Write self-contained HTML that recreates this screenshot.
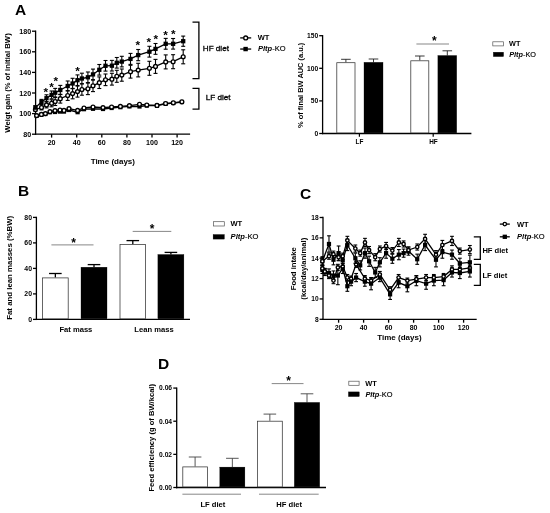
<!DOCTYPE html>
<html><head><meta charset="utf-8"><title>Figure</title>
<style>
html,body{margin:0;padding:0;background:#fff;}
svg{display:block;font-family:"Liberation Sans",sans-serif;filter:blur(0.35px);}
</style></head>
<body>
<svg width="550" height="513" viewBox="0 0 550 513">
<rect x="0" y="0" width="550" height="513" fill="#fff"/>
<text x="15.10" y="15.00" font-size="15.5" font-weight="bold" text-anchor="start" fill="#000" >A</text>
<line x1="35.60" y1="30.55" x2="35.60" y2="134.85" stroke="#000" stroke-width="1.3" />
<line x1="34.95" y1="134.20" x2="190.10" y2="134.20" stroke="#000" stroke-width="1.3" />
<line x1="32.00" y1="134.20" x2="35.60" y2="134.20" stroke="#000" stroke-width="1.3" />
<text x="31.20" y="136.70" font-size="7.1" font-weight="bold" text-anchor="end" fill="#000" >80</text>
<line x1="32.00" y1="113.60" x2="35.60" y2="113.60" stroke="#000" stroke-width="1.3" />
<text x="31.20" y="116.10" font-size="7.1" font-weight="bold" text-anchor="end" fill="#000" >100</text>
<line x1="32.00" y1="93.00" x2="35.60" y2="93.00" stroke="#000" stroke-width="1.3" />
<text x="31.20" y="95.50" font-size="7.1" font-weight="bold" text-anchor="end" fill="#000" >120</text>
<line x1="32.00" y1="72.40" x2="35.60" y2="72.40" stroke="#000" stroke-width="1.3" />
<text x="31.20" y="74.90" font-size="7.1" font-weight="bold" text-anchor="end" fill="#000" >140</text>
<line x1="32.00" y1="51.80" x2="35.60" y2="51.80" stroke="#000" stroke-width="1.3" />
<text x="31.20" y="54.30" font-size="7.1" font-weight="bold" text-anchor="end" fill="#000" >160</text>
<line x1="32.00" y1="31.20" x2="35.60" y2="31.20" stroke="#000" stroke-width="1.3" />
<text x="31.20" y="33.70" font-size="7.1" font-weight="bold" text-anchor="end" fill="#000" >180</text>
<line x1="51.60" y1="134.20" x2="51.60" y2="137.60" stroke="#000" stroke-width="1.3" />
<text x="51.60" y="145.00" font-size="7.1" font-weight="bold" text-anchor="middle" fill="#000" >20</text>
<line x1="76.70" y1="134.20" x2="76.70" y2="137.60" stroke="#000" stroke-width="1.3" />
<text x="76.70" y="145.00" font-size="7.1" font-weight="bold" text-anchor="middle" fill="#000" >40</text>
<line x1="101.80" y1="134.20" x2="101.80" y2="137.60" stroke="#000" stroke-width="1.3" />
<text x="101.80" y="145.00" font-size="7.1" font-weight="bold" text-anchor="middle" fill="#000" >60</text>
<line x1="126.90" y1="134.20" x2="126.90" y2="137.60" stroke="#000" stroke-width="1.3" />
<text x="126.90" y="145.00" font-size="7.1" font-weight="bold" text-anchor="middle" fill="#000" >80</text>
<line x1="152.00" y1="134.20" x2="152.00" y2="137.60" stroke="#000" stroke-width="1.3" />
<text x="152.00" y="145.00" font-size="7.1" font-weight="bold" text-anchor="middle" fill="#000" >100</text>
<line x1="177.10" y1="134.20" x2="177.10" y2="137.60" stroke="#000" stroke-width="1.3" />
<text x="177.10" y="145.00" font-size="7.1" font-weight="bold" text-anchor="middle" fill="#000" >120</text>
<text transform="translate(9.90,83.00) rotate(-90)" font-size="7.7" font-weight="bold" text-anchor="middle" >Weigt gain (% of initial BW)</text>
<text x="112.80" y="164.40" font-size="8.0" font-weight="bold" text-anchor="middle" fill="#000" >Time (days)</text>
<polyline fill="none" stroke="#000" stroke-width="1.3" points="36.60,115.80 41.40,114.70 45.40,114.00 50.00,112.20 55.00,112.00 60.00,111.60 64.00,111.60 69.00,110.00 77.60,112.20 84.00,109.20 93.00,108.80 103.00,109.00 111.60,108.00 120.40,107.20 129.40,106.40 139.50,106.50 146.80,105.60 157.00,105.70 165.60,103.80 173.30,103.00 181.90,102.00"/>
<rect x="34.50" y="113.70" width="4.2" height="4.2" fill="#000"/>
<rect x="39.30" y="112.60" width="4.2" height="4.2" fill="#000"/>
<rect x="43.30" y="111.90" width="4.2" height="4.2" fill="#000"/>
<rect x="47.90" y="110.10" width="4.2" height="4.2" fill="#000"/>
<rect x="52.90" y="109.90" width="4.2" height="4.2" fill="#000"/>
<rect x="57.90" y="109.50" width="4.2" height="4.2" fill="#000"/>
<rect x="61.90" y="109.50" width="4.2" height="4.2" fill="#000"/>
<rect x="66.90" y="107.90" width="4.2" height="4.2" fill="#000"/>
<rect x="75.50" y="110.10" width="4.2" height="4.2" fill="#000"/>
<rect x="81.90" y="107.10" width="4.2" height="4.2" fill="#000"/>
<rect x="90.90" y="106.70" width="4.2" height="4.2" fill="#000"/>
<rect x="100.90" y="106.90" width="4.2" height="4.2" fill="#000"/>
<rect x="109.50" y="105.90" width="4.2" height="4.2" fill="#000"/>
<rect x="118.30" y="105.10" width="4.2" height="4.2" fill="#000"/>
<rect x="127.30" y="104.30" width="4.2" height="4.2" fill="#000"/>
<rect x="137.40" y="104.40" width="4.2" height="4.2" fill="#000"/>
<rect x="144.70" y="103.50" width="4.2" height="4.2" fill="#000"/>
<rect x="154.90" y="103.60" width="4.2" height="4.2" fill="#000"/>
<rect x="163.50" y="101.70" width="4.2" height="4.2" fill="#000"/>
<rect x="171.20" y="100.90" width="4.2" height="4.2" fill="#000"/>
<rect x="179.80" y="99.90" width="4.2" height="4.2" fill="#000"/>
<polyline fill="none" stroke="#000" stroke-width="1.3" points="36.60,115.60 41.40,114.40 45.40,113.60 50.00,111.60 55.00,110.60 60.00,110.00 64.00,110.40 69.00,108.60 77.60,110.40 84.00,108.00 93.00,107.00 103.00,107.60 111.60,107.00 120.40,106.40 129.40,105.60 139.50,104.30 146.80,105.00 157.00,105.40 165.60,103.50 173.30,102.80 181.90,101.80"/>
<circle cx="36.60" cy="115.60" r="1.9" fill="#fff" stroke="#000" stroke-width="1.35"/>
<circle cx="41.40" cy="114.40" r="1.9" fill="#fff" stroke="#000" stroke-width="1.35"/>
<circle cx="45.40" cy="113.60" r="1.9" fill="#fff" stroke="#000" stroke-width="1.35"/>
<circle cx="50.00" cy="111.60" r="1.9" fill="#fff" stroke="#000" stroke-width="1.35"/>
<circle cx="55.00" cy="110.60" r="1.9" fill="#fff" stroke="#000" stroke-width="1.35"/>
<circle cx="60.00" cy="110.00" r="1.9" fill="#fff" stroke="#000" stroke-width="1.35"/>
<circle cx="64.00" cy="110.40" r="1.9" fill="#fff" stroke="#000" stroke-width="1.35"/>
<circle cx="69.00" cy="108.60" r="1.9" fill="#fff" stroke="#000" stroke-width="1.35"/>
<circle cx="77.60" cy="110.40" r="1.9" fill="#fff" stroke="#000" stroke-width="1.35"/>
<circle cx="84.00" cy="108.00" r="1.9" fill="#fff" stroke="#000" stroke-width="1.35"/>
<circle cx="93.00" cy="107.00" r="1.9" fill="#fff" stroke="#000" stroke-width="1.35"/>
<circle cx="103.00" cy="107.60" r="1.9" fill="#fff" stroke="#000" stroke-width="1.35"/>
<circle cx="111.60" cy="107.00" r="1.9" fill="#fff" stroke="#000" stroke-width="1.35"/>
<circle cx="120.40" cy="106.40" r="1.9" fill="#fff" stroke="#000" stroke-width="1.35"/>
<circle cx="129.40" cy="105.60" r="1.9" fill="#fff" stroke="#000" stroke-width="1.35"/>
<circle cx="139.50" cy="104.30" r="1.9" fill="#fff" stroke="#000" stroke-width="1.35"/>
<circle cx="146.80" cy="105.00" r="1.9" fill="#fff" stroke="#000" stroke-width="1.35"/>
<circle cx="157.00" cy="105.40" r="1.9" fill="#fff" stroke="#000" stroke-width="1.35"/>
<circle cx="165.60" cy="103.50" r="1.9" fill="#fff" stroke="#000" stroke-width="1.35"/>
<circle cx="173.30" cy="102.80" r="1.9" fill="#fff" stroke="#000" stroke-width="1.35"/>
<circle cx="181.90" cy="101.80" r="1.9" fill="#fff" stroke="#000" stroke-width="1.35"/>
<polyline fill="none" stroke="#000" stroke-width="1.3" points="35.40,109.60 41.50,107.50 46.50,104.90 51.60,103.30 55.20,101.50 60.30,98.70 67.70,95.50 72.60,93.60 77.50,91.60 81.90,89.50 87.90,88.80 93.00,85.80 99.30,82.70 105.50,79.80 111.90,79.20 116.80,76.30 121.80,75.10 130.50,71.70 138.20,70.10 149.40,68.30 155.50,66.40 165.70,61.90 173.10,61.70 183.20,56.80"/>
<line x1="35.40" y1="108.00" x2="35.40" y2="111.20" stroke="#000" stroke-width="1.1" />
<line x1="33.40" y1="108.00" x2="37.40" y2="108.00" stroke="#000" stroke-width="1.1" />
<line x1="33.40" y1="111.20" x2="37.40" y2="111.20" stroke="#000" stroke-width="1.1" />
<line x1="41.50" y1="105.10" x2="41.50" y2="109.90" stroke="#000" stroke-width="1.1" />
<line x1="39.50" y1="105.10" x2="43.50" y2="105.10" stroke="#000" stroke-width="1.1" />
<line x1="39.50" y1="109.90" x2="43.50" y2="109.90" stroke="#000" stroke-width="1.1" />
<line x1="46.50" y1="101.90" x2="46.50" y2="107.90" stroke="#000" stroke-width="1.1" />
<line x1="44.50" y1="101.90" x2="48.50" y2="101.90" stroke="#000" stroke-width="1.1" />
<line x1="44.50" y1="107.90" x2="48.50" y2="107.90" stroke="#000" stroke-width="1.1" />
<line x1="51.60" y1="99.80" x2="51.60" y2="106.80" stroke="#000" stroke-width="1.1" />
<line x1="49.60" y1="99.80" x2="53.60" y2="99.80" stroke="#000" stroke-width="1.1" />
<line x1="49.60" y1="106.80" x2="53.60" y2="106.80" stroke="#000" stroke-width="1.1" />
<line x1="55.20" y1="97.50" x2="55.20" y2="105.50" stroke="#000" stroke-width="1.1" />
<line x1="53.20" y1="97.50" x2="57.20" y2="97.50" stroke="#000" stroke-width="1.1" />
<line x1="53.20" y1="105.50" x2="57.20" y2="105.50" stroke="#000" stroke-width="1.1" />
<line x1="60.30" y1="94.30" x2="60.30" y2="103.10" stroke="#000" stroke-width="1.1" />
<line x1="58.30" y1="94.30" x2="62.30" y2="94.30" stroke="#000" stroke-width="1.1" />
<line x1="58.30" y1="103.10" x2="62.30" y2="103.10" stroke="#000" stroke-width="1.1" />
<line x1="67.70" y1="90.60" x2="67.70" y2="100.40" stroke="#000" stroke-width="1.1" />
<line x1="65.70" y1="90.60" x2="69.70" y2="90.60" stroke="#000" stroke-width="1.1" />
<line x1="65.70" y1="100.40" x2="69.70" y2="100.40" stroke="#000" stroke-width="1.1" />
<line x1="72.60" y1="88.40" x2="72.60" y2="98.80" stroke="#000" stroke-width="1.1" />
<line x1="70.60" y1="88.40" x2="74.60" y2="88.40" stroke="#000" stroke-width="1.1" />
<line x1="70.60" y1="98.80" x2="74.60" y2="98.80" stroke="#000" stroke-width="1.1" />
<line x1="77.50" y1="86.10" x2="77.50" y2="97.10" stroke="#000" stroke-width="1.1" />
<line x1="75.50" y1="86.10" x2="79.50" y2="86.10" stroke="#000" stroke-width="1.1" />
<line x1="75.50" y1="97.10" x2="79.50" y2="97.10" stroke="#000" stroke-width="1.1" />
<line x1="81.90" y1="83.80" x2="81.90" y2="95.20" stroke="#000" stroke-width="1.1" />
<line x1="79.90" y1="83.80" x2="83.90" y2="83.80" stroke="#000" stroke-width="1.1" />
<line x1="79.90" y1="95.20" x2="83.90" y2="95.20" stroke="#000" stroke-width="1.1" />
<line x1="87.90" y1="83.00" x2="87.90" y2="94.60" stroke="#000" stroke-width="1.1" />
<line x1="85.90" y1="83.00" x2="89.90" y2="83.00" stroke="#000" stroke-width="1.1" />
<line x1="85.90" y1="94.60" x2="89.90" y2="94.60" stroke="#000" stroke-width="1.1" />
<line x1="93.00" y1="80.00" x2="93.00" y2="91.60" stroke="#000" stroke-width="1.1" />
<line x1="91.00" y1="80.00" x2="95.00" y2="80.00" stroke="#000" stroke-width="1.1" />
<line x1="91.00" y1="91.60" x2="95.00" y2="91.60" stroke="#000" stroke-width="1.1" />
<line x1="99.30" y1="76.90" x2="99.30" y2="88.50" stroke="#000" stroke-width="1.1" />
<line x1="97.30" y1="76.90" x2="101.30" y2="76.90" stroke="#000" stroke-width="1.1" />
<line x1="97.30" y1="88.50" x2="101.30" y2="88.50" stroke="#000" stroke-width="1.1" />
<line x1="105.50" y1="74.00" x2="105.50" y2="85.60" stroke="#000" stroke-width="1.1" />
<line x1="103.50" y1="74.00" x2="107.50" y2="74.00" stroke="#000" stroke-width="1.1" />
<line x1="103.50" y1="85.60" x2="107.50" y2="85.60" stroke="#000" stroke-width="1.1" />
<line x1="111.90" y1="73.30" x2="111.90" y2="85.10" stroke="#000" stroke-width="1.1" />
<line x1="109.90" y1="73.30" x2="113.90" y2="73.30" stroke="#000" stroke-width="1.1" />
<line x1="109.90" y1="85.10" x2="113.90" y2="85.10" stroke="#000" stroke-width="1.1" />
<line x1="116.80" y1="70.30" x2="116.80" y2="82.30" stroke="#000" stroke-width="1.1" />
<line x1="114.80" y1="70.30" x2="118.80" y2="70.30" stroke="#000" stroke-width="1.1" />
<line x1="114.80" y1="82.30" x2="118.80" y2="82.30" stroke="#000" stroke-width="1.1" />
<line x1="121.80" y1="69.00" x2="121.80" y2="81.20" stroke="#000" stroke-width="1.1" />
<line x1="119.80" y1="69.00" x2="123.80" y2="69.00" stroke="#000" stroke-width="1.1" />
<line x1="119.80" y1="81.20" x2="123.80" y2="81.20" stroke="#000" stroke-width="1.1" />
<line x1="130.50" y1="65.30" x2="130.50" y2="78.10" stroke="#000" stroke-width="1.1" />
<line x1="128.50" y1="65.30" x2="132.50" y2="65.30" stroke="#000" stroke-width="1.1" />
<line x1="128.50" y1="78.10" x2="132.50" y2="78.10" stroke="#000" stroke-width="1.1" />
<line x1="138.20" y1="63.30" x2="138.20" y2="76.90" stroke="#000" stroke-width="1.1" />
<line x1="136.20" y1="63.30" x2="140.20" y2="63.30" stroke="#000" stroke-width="1.1" />
<line x1="136.20" y1="76.90" x2="140.20" y2="76.90" stroke="#000" stroke-width="1.1" />
<line x1="149.40" y1="61.30" x2="149.40" y2="75.30" stroke="#000" stroke-width="1.1" />
<line x1="147.40" y1="61.30" x2="151.40" y2="61.30" stroke="#000" stroke-width="1.1" />
<line x1="147.40" y1="75.30" x2="151.40" y2="75.30" stroke="#000" stroke-width="1.1" />
<line x1="155.50" y1="59.40" x2="155.50" y2="73.40" stroke="#000" stroke-width="1.1" />
<line x1="153.50" y1="59.40" x2="157.50" y2="59.40" stroke="#000" stroke-width="1.1" />
<line x1="153.50" y1="73.40" x2="157.50" y2="73.40" stroke="#000" stroke-width="1.1" />
<line x1="165.70" y1="54.90" x2="165.70" y2="68.90" stroke="#000" stroke-width="1.1" />
<line x1="163.70" y1="54.90" x2="167.70" y2="54.90" stroke="#000" stroke-width="1.1" />
<line x1="163.70" y1="68.90" x2="167.70" y2="68.90" stroke="#000" stroke-width="1.1" />
<line x1="173.10" y1="54.70" x2="173.10" y2="68.70" stroke="#000" stroke-width="1.1" />
<line x1="171.10" y1="54.70" x2="175.10" y2="54.70" stroke="#000" stroke-width="1.1" />
<line x1="171.10" y1="68.70" x2="175.10" y2="68.70" stroke="#000" stroke-width="1.1" />
<line x1="183.20" y1="49.80" x2="183.20" y2="63.80" stroke="#000" stroke-width="1.1" />
<line x1="181.20" y1="49.80" x2="185.20" y2="49.80" stroke="#000" stroke-width="1.1" />
<line x1="181.20" y1="63.80" x2="185.20" y2="63.80" stroke="#000" stroke-width="1.1" />
<circle cx="35.40" cy="109.60" r="1.9" fill="#fff" stroke="#000" stroke-width="1.35"/>
<circle cx="41.50" cy="107.50" r="1.9" fill="#fff" stroke="#000" stroke-width="1.35"/>
<circle cx="46.50" cy="104.90" r="1.9" fill="#fff" stroke="#000" stroke-width="1.35"/>
<circle cx="51.60" cy="103.30" r="1.9" fill="#fff" stroke="#000" stroke-width="1.35"/>
<circle cx="55.20" cy="101.50" r="1.9" fill="#fff" stroke="#000" stroke-width="1.35"/>
<circle cx="60.30" cy="98.70" r="1.9" fill="#fff" stroke="#000" stroke-width="1.35"/>
<circle cx="67.70" cy="95.50" r="1.9" fill="#fff" stroke="#000" stroke-width="1.35"/>
<circle cx="72.60" cy="93.60" r="1.9" fill="#fff" stroke="#000" stroke-width="1.35"/>
<circle cx="77.50" cy="91.60" r="1.9" fill="#fff" stroke="#000" stroke-width="1.35"/>
<circle cx="81.90" cy="89.50" r="1.9" fill="#fff" stroke="#000" stroke-width="1.35"/>
<circle cx="87.90" cy="88.80" r="1.9" fill="#fff" stroke="#000" stroke-width="1.35"/>
<circle cx="93.00" cy="85.80" r="1.9" fill="#fff" stroke="#000" stroke-width="1.35"/>
<circle cx="99.30" cy="82.70" r="1.9" fill="#fff" stroke="#000" stroke-width="1.35"/>
<circle cx="105.50" cy="79.80" r="1.9" fill="#fff" stroke="#000" stroke-width="1.35"/>
<circle cx="111.90" cy="79.20" r="1.9" fill="#fff" stroke="#000" stroke-width="1.35"/>
<circle cx="116.80" cy="76.30" r="1.9" fill="#fff" stroke="#000" stroke-width="1.35"/>
<circle cx="121.80" cy="75.10" r="1.9" fill="#fff" stroke="#000" stroke-width="1.35"/>
<circle cx="130.50" cy="71.70" r="1.9" fill="#fff" stroke="#000" stroke-width="1.35"/>
<circle cx="138.20" cy="70.10" r="1.9" fill="#fff" stroke="#000" stroke-width="1.35"/>
<circle cx="149.40" cy="68.30" r="1.9" fill="#fff" stroke="#000" stroke-width="1.35"/>
<circle cx="155.50" cy="66.40" r="1.9" fill="#fff" stroke="#000" stroke-width="1.35"/>
<circle cx="165.70" cy="61.90" r="1.9" fill="#fff" stroke="#000" stroke-width="1.35"/>
<circle cx="173.10" cy="61.70" r="1.9" fill="#fff" stroke="#000" stroke-width="1.35"/>
<circle cx="183.20" cy="56.80" r="1.9" fill="#fff" stroke="#000" stroke-width="1.35"/>
<polyline fill="none" stroke="#000" stroke-width="1.3" points="35.40,107.40 41.50,102.00 46.50,98.20 51.60,94.90 55.20,92.70 60.30,90.00 67.70,86.00 72.60,83.50 77.50,80.20 81.90,78.50 87.90,77.30 93.00,74.40 99.30,69.80 105.50,65.80 111.90,65.70 116.80,62.80 121.80,61.60 130.50,58.90 138.20,55.10 149.40,51.70 155.50,48.90 165.70,43.80 173.10,43.80 183.20,41.20"/>
<line x1="35.40" y1="105.80" x2="35.40" y2="109.00" stroke="#000" stroke-width="1.1" />
<line x1="33.40" y1="105.80" x2="37.40" y2="105.80" stroke="#000" stroke-width="1.1" />
<line x1="33.40" y1="109.00" x2="37.40" y2="109.00" stroke="#000" stroke-width="1.1" />
<line x1="41.50" y1="99.40" x2="41.50" y2="104.60" stroke="#000" stroke-width="1.1" />
<line x1="39.50" y1="99.40" x2="43.50" y2="99.40" stroke="#000" stroke-width="1.1" />
<line x1="39.50" y1="104.60" x2="43.50" y2="104.60" stroke="#000" stroke-width="1.1" />
<line x1="46.50" y1="94.80" x2="46.50" y2="101.60" stroke="#000" stroke-width="1.1" />
<line x1="44.50" y1="94.80" x2="48.50" y2="94.80" stroke="#000" stroke-width="1.1" />
<line x1="44.50" y1="101.60" x2="48.50" y2="101.60" stroke="#000" stroke-width="1.1" />
<line x1="51.60" y1="91.00" x2="51.60" y2="98.80" stroke="#000" stroke-width="1.1" />
<line x1="49.60" y1="91.00" x2="53.60" y2="91.00" stroke="#000" stroke-width="1.1" />
<line x1="49.60" y1="98.80" x2="53.60" y2="98.80" stroke="#000" stroke-width="1.1" />
<line x1="55.20" y1="88.40" x2="55.20" y2="97.00" stroke="#000" stroke-width="1.1" />
<line x1="53.20" y1="88.40" x2="57.20" y2="88.40" stroke="#000" stroke-width="1.1" />
<line x1="53.20" y1="97.00" x2="57.20" y2="97.00" stroke="#000" stroke-width="1.1" />
<line x1="60.30" y1="85.40" x2="60.30" y2="94.60" stroke="#000" stroke-width="1.1" />
<line x1="58.30" y1="85.40" x2="62.30" y2="85.40" stroke="#000" stroke-width="1.1" />
<line x1="58.30" y1="94.60" x2="62.30" y2="94.60" stroke="#000" stroke-width="1.1" />
<line x1="67.70" y1="81.00" x2="67.70" y2="91.00" stroke="#000" stroke-width="1.1" />
<line x1="65.70" y1="81.00" x2="69.70" y2="81.00" stroke="#000" stroke-width="1.1" />
<line x1="65.70" y1="91.00" x2="69.70" y2="91.00" stroke="#000" stroke-width="1.1" />
<line x1="72.60" y1="78.30" x2="72.60" y2="88.70" stroke="#000" stroke-width="1.1" />
<line x1="70.60" y1="78.30" x2="74.60" y2="78.30" stroke="#000" stroke-width="1.1" />
<line x1="70.60" y1="88.70" x2="74.60" y2="88.70" stroke="#000" stroke-width="1.1" />
<line x1="77.50" y1="74.90" x2="77.50" y2="85.50" stroke="#000" stroke-width="1.1" />
<line x1="75.50" y1="74.90" x2="79.50" y2="74.90" stroke="#000" stroke-width="1.1" />
<line x1="75.50" y1="85.50" x2="79.50" y2="85.50" stroke="#000" stroke-width="1.1" />
<line x1="81.90" y1="73.20" x2="81.90" y2="83.80" stroke="#000" stroke-width="1.1" />
<line x1="79.90" y1="73.20" x2="83.90" y2="73.20" stroke="#000" stroke-width="1.1" />
<line x1="79.90" y1="83.80" x2="83.90" y2="83.80" stroke="#000" stroke-width="1.1" />
<line x1="87.90" y1="72.00" x2="87.90" y2="82.60" stroke="#000" stroke-width="1.1" />
<line x1="85.90" y1="72.00" x2="89.90" y2="72.00" stroke="#000" stroke-width="1.1" />
<line x1="85.90" y1="82.60" x2="89.90" y2="82.60" stroke="#000" stroke-width="1.1" />
<line x1="93.00" y1="69.10" x2="93.00" y2="79.70" stroke="#000" stroke-width="1.1" />
<line x1="91.00" y1="69.10" x2="95.00" y2="69.10" stroke="#000" stroke-width="1.1" />
<line x1="91.00" y1="79.70" x2="95.00" y2="79.70" stroke="#000" stroke-width="1.1" />
<line x1="99.30" y1="64.50" x2="99.30" y2="75.10" stroke="#000" stroke-width="1.1" />
<line x1="97.30" y1="64.50" x2="101.30" y2="64.50" stroke="#000" stroke-width="1.1" />
<line x1="97.30" y1="75.10" x2="101.30" y2="75.10" stroke="#000" stroke-width="1.1" />
<line x1="105.50" y1="60.50" x2="105.50" y2="71.10" stroke="#000" stroke-width="1.1" />
<line x1="103.50" y1="60.50" x2="107.50" y2="60.50" stroke="#000" stroke-width="1.1" />
<line x1="103.50" y1="71.10" x2="107.50" y2="71.10" stroke="#000" stroke-width="1.1" />
<line x1="111.90" y1="60.40" x2="111.90" y2="71.00" stroke="#000" stroke-width="1.1" />
<line x1="109.90" y1="60.40" x2="113.90" y2="60.40" stroke="#000" stroke-width="1.1" />
<line x1="109.90" y1="71.00" x2="113.90" y2="71.00" stroke="#000" stroke-width="1.1" />
<line x1="116.80" y1="57.50" x2="116.80" y2="68.10" stroke="#000" stroke-width="1.1" />
<line x1="114.80" y1="57.50" x2="118.80" y2="57.50" stroke="#000" stroke-width="1.1" />
<line x1="114.80" y1="68.10" x2="118.80" y2="68.10" stroke="#000" stroke-width="1.1" />
<line x1="121.80" y1="56.30" x2="121.80" y2="66.90" stroke="#000" stroke-width="1.1" />
<line x1="119.80" y1="56.30" x2="123.80" y2="56.30" stroke="#000" stroke-width="1.1" />
<line x1="119.80" y1="66.90" x2="123.80" y2="66.90" stroke="#000" stroke-width="1.1" />
<line x1="130.50" y1="53.40" x2="130.50" y2="64.40" stroke="#000" stroke-width="1.1" />
<line x1="128.50" y1="53.40" x2="132.50" y2="53.40" stroke="#000" stroke-width="1.1" />
<line x1="128.50" y1="64.40" x2="132.50" y2="64.40" stroke="#000" stroke-width="1.1" />
<line x1="138.20" y1="49.50" x2="138.20" y2="60.70" stroke="#000" stroke-width="1.1" />
<line x1="136.20" y1="49.50" x2="140.20" y2="49.50" stroke="#000" stroke-width="1.1" />
<line x1="136.20" y1="60.70" x2="140.20" y2="60.70" stroke="#000" stroke-width="1.1" />
<line x1="149.40" y1="46.30" x2="149.40" y2="57.10" stroke="#000" stroke-width="1.1" />
<line x1="147.40" y1="46.30" x2="151.40" y2="46.30" stroke="#000" stroke-width="1.1" />
<line x1="147.40" y1="57.10" x2="151.40" y2="57.10" stroke="#000" stroke-width="1.1" />
<line x1="155.50" y1="43.50" x2="155.50" y2="54.30" stroke="#000" stroke-width="1.1" />
<line x1="153.50" y1="43.50" x2="157.50" y2="43.50" stroke="#000" stroke-width="1.1" />
<line x1="153.50" y1="54.30" x2="157.50" y2="54.30" stroke="#000" stroke-width="1.1" />
<line x1="165.70" y1="38.40" x2="165.70" y2="49.20" stroke="#000" stroke-width="1.1" />
<line x1="163.70" y1="38.40" x2="167.70" y2="38.40" stroke="#000" stroke-width="1.1" />
<line x1="163.70" y1="49.20" x2="167.70" y2="49.20" stroke="#000" stroke-width="1.1" />
<line x1="173.10" y1="38.50" x2="173.10" y2="49.10" stroke="#000" stroke-width="1.1" />
<line x1="171.10" y1="38.50" x2="175.10" y2="38.50" stroke="#000" stroke-width="1.1" />
<line x1="171.10" y1="49.10" x2="175.10" y2="49.10" stroke="#000" stroke-width="1.1" />
<line x1="183.20" y1="36.10" x2="183.20" y2="46.30" stroke="#000" stroke-width="1.1" />
<line x1="181.20" y1="36.10" x2="185.20" y2="36.10" stroke="#000" stroke-width="1.1" />
<line x1="181.20" y1="46.30" x2="185.20" y2="46.30" stroke="#000" stroke-width="1.1" />
<rect x="33.25" y="105.25" width="4.3" height="4.3" fill="#000"/>
<rect x="39.35" y="99.85" width="4.3" height="4.3" fill="#000"/>
<rect x="44.35" y="96.05" width="4.3" height="4.3" fill="#000"/>
<rect x="49.45" y="92.75" width="4.3" height="4.3" fill="#000"/>
<rect x="53.05" y="90.55" width="4.3" height="4.3" fill="#000"/>
<rect x="58.15" y="87.85" width="4.3" height="4.3" fill="#000"/>
<rect x="65.55" y="83.85" width="4.3" height="4.3" fill="#000"/>
<rect x="70.45" y="81.35" width="4.3" height="4.3" fill="#000"/>
<rect x="75.35" y="78.05" width="4.3" height="4.3" fill="#000"/>
<rect x="79.75" y="76.35" width="4.3" height="4.3" fill="#000"/>
<rect x="85.75" y="75.15" width="4.3" height="4.3" fill="#000"/>
<rect x="90.85" y="72.25" width="4.3" height="4.3" fill="#000"/>
<rect x="97.15" y="67.65" width="4.3" height="4.3" fill="#000"/>
<rect x="103.35" y="63.65" width="4.3" height="4.3" fill="#000"/>
<rect x="109.75" y="63.55" width="4.3" height="4.3" fill="#000"/>
<rect x="114.65" y="60.65" width="4.3" height="4.3" fill="#000"/>
<rect x="119.65" y="59.45" width="4.3" height="4.3" fill="#000"/>
<rect x="128.35" y="56.75" width="4.3" height="4.3" fill="#000"/>
<rect x="136.05" y="52.95" width="4.3" height="4.3" fill="#000"/>
<rect x="147.25" y="49.55" width="4.3" height="4.3" fill="#000"/>
<rect x="153.35" y="46.75" width="4.3" height="4.3" fill="#000"/>
<rect x="163.55" y="41.65" width="4.3" height="4.3" fill="#000"/>
<rect x="170.95" y="41.65" width="4.3" height="4.3" fill="#000"/>
<rect x="181.05" y="39.05" width="4.3" height="4.3" fill="#000"/>
<text x="45.90" y="95.72" font-size="11.8" font-weight="bold" text-anchor="middle" fill="#000" >*</text>
<text x="51.60" y="90.92" font-size="11.8" font-weight="bold" text-anchor="middle" fill="#000" >*</text>
<text x="55.90" y="85.42" font-size="11.8" font-weight="bold" text-anchor="middle" fill="#000" >*</text>
<text x="77.50" y="74.92" font-size="11.8" font-weight="bold" text-anchor="middle" fill="#000" >*</text>
<text x="137.70" y="48.82" font-size="11.8" font-weight="bold" text-anchor="middle" fill="#000" >*</text>
<text x="148.80" y="46.02" font-size="11.8" font-weight="bold" text-anchor="middle" fill="#000" >*</text>
<text x="155.90" y="43.12" font-size="11.8" font-weight="bold" text-anchor="middle" fill="#000" >*</text>
<text x="165.50" y="38.92" font-size="11.8" font-weight="bold" text-anchor="middle" fill="#000" >*</text>
<text x="173.40" y="38.02" font-size="11.8" font-weight="bold" text-anchor="middle" fill="#000" >*</text>
<polyline fill="none" stroke="#000" stroke-width="1.3" points="192.50,22.20 198.90,22.20 198.90,78.70 192.50,78.70"/>
<polyline fill="none" stroke="#000" stroke-width="1.3" points="192.50,88.30 198.90,88.30 198.90,109.10 192.50,109.10"/>
<text x="202.80" y="50.80" font-size="8.1" font-weight="normal" text-anchor="start" fill="#000" stroke="#000" stroke-width="0.3">HF diet</text>
<text x="205.80" y="99.70" font-size="8.1" font-weight="normal" text-anchor="start" fill="#000" stroke="#000" stroke-width="0.3">LF diet</text>
<line x1="240.20" y1="37.90" x2="251.20" y2="37.90" stroke="#000" stroke-width="1.3" />
<circle cx="245.70" cy="37.90" r="1.95" fill="#fff" stroke="#000" stroke-width="1.35"/>
<text x="257.70" y="40.40" font-size="7.5" font-weight="bold" text-anchor="start" fill="#000" >WT</text>
<line x1="240.20" y1="49.05" x2="251.20" y2="49.05" stroke="#000" stroke-width="1.3" />
<rect x="243.40" y="46.85" width="4.4" height="4.4" fill="#000"/>
<text x="258.00" y="51.40" font-size="7.5" font-weight="bold"><tspan font-style="italic">Pltp</tspan><tspan font-weight="normal" stroke="#000" stroke-width="0.15">-KO</tspan></text>
<line x1="322.60" y1="35.05" x2="322.60" y2="134.15" stroke="#000" stroke-width="1.3" />
<line x1="321.95" y1="133.50" x2="471.40" y2="133.50" stroke="#000" stroke-width="1.3" />
<line x1="319.20" y1="133.50" x2="322.60" y2="133.50" stroke="#000" stroke-width="1.3" />
<text x="318.20" y="135.90" font-size="6.7" font-weight="bold" text-anchor="end" fill="#000" >0</text>
<line x1="319.20" y1="100.90" x2="322.60" y2="100.90" stroke="#000" stroke-width="1.3" />
<text x="318.20" y="103.30" font-size="6.7" font-weight="bold" text-anchor="end" fill="#000" >50</text>
<line x1="319.20" y1="68.30" x2="322.60" y2="68.30" stroke="#000" stroke-width="1.3" />
<text x="318.20" y="70.70" font-size="6.7" font-weight="bold" text-anchor="end" fill="#000" >100</text>
<line x1="319.20" y1="35.70" x2="322.60" y2="35.70" stroke="#000" stroke-width="1.3" />
<text x="318.20" y="38.10" font-size="6.7" font-weight="bold" text-anchor="end" fill="#000" >150</text>
<text transform="translate(303.20,85.30) rotate(-90)" font-size="7.45" font-weight="bold" text-anchor="middle" >% of final BW AUC (a.u.)</text>
<line x1="345.90" y1="59.30" x2="345.90" y2="62.30" stroke="#222" stroke-width="0.9" />
<line x1="341.10" y1="59.30" x2="350.70" y2="59.30" stroke="#222" stroke-width="0.9" />
<rect x="336.80" y="62.70" width="18.20" height="70.20" fill="#fff" stroke="#333" stroke-width="0.75"/>
<line x1="373.50" y1="59.00" x2="373.50" y2="62.30" stroke="#222" stroke-width="0.9" />
<line x1="368.70" y1="59.00" x2="378.30" y2="59.00" stroke="#222" stroke-width="0.9" />
<rect x="364.00" y="62.30" width="19.00" height="70.60" fill="#000" stroke="#000" stroke-width="0.3"/>
<line x1="419.80" y1="56.00" x2="419.80" y2="60.40" stroke="#222" stroke-width="0.9" />
<line x1="415.00" y1="56.00" x2="424.60" y2="56.00" stroke="#222" stroke-width="0.9" />
<rect x="410.80" y="60.80" width="18.00" height="72.10" fill="#fff" stroke="#333" stroke-width="0.75"/>
<line x1="447.30" y1="50.80" x2="447.30" y2="55.50" stroke="#222" stroke-width="0.9" />
<line x1="442.50" y1="50.80" x2="452.10" y2="50.80" stroke="#222" stroke-width="0.9" />
<rect x="437.90" y="55.50" width="18.80" height="77.40" fill="#000" stroke="#000" stroke-width="0.3"/>
<line x1="359.40" y1="133.50" x2="359.40" y2="136.80" stroke="#000" stroke-width="1.2" />
<line x1="433.20" y1="133.50" x2="433.20" y2="136.80" stroke="#000" stroke-width="1.2" />
<text x="359.40" y="144.00" font-size="6.4" font-weight="bold" text-anchor="middle" fill="#000" >LF</text>
<text x="433.40" y="144.00" font-size="6.4" font-weight="bold" text-anchor="middle" fill="#000" >HF</text>
<line x1="416.40" y1="44.00" x2="449.00" y2="44.00" stroke="#555" stroke-width="0.7" />
<text x="434.40" y="45.22" font-size="12" font-weight="bold" text-anchor="middle" fill="#000" >*</text>
<rect x="492.80" y="41.80" width="10.60" height="4.10" fill="#fff" stroke="#555" stroke-width="0.7"/>
<text x="509.00" y="46.20" font-size="7.3" font-weight="bold" text-anchor="start" fill="#000" >WT</text>
<rect x="493.30" y="52.20" width="10.30" height="4.40" fill="#000" stroke="#000" stroke-width="0.3"/>
<text x="509.20" y="56.70" font-size="7.3" font-weight="bold"><tspan font-style="italic">Pltp</tspan><tspan font-weight="normal" stroke="#000" stroke-width="0.15">-KO</tspan></text>
<text x="17.90" y="195.50" font-size="15.5" font-weight="bold" text-anchor="start" fill="#000" >B</text>
<line x1="36.40" y1="216.75" x2="36.40" y2="320.05" stroke="#000" stroke-width="1.3" />
<line x1="35.75" y1="319.40" x2="190.00" y2="319.40" stroke="#000" stroke-width="1.3" />
<line x1="33.00" y1="319.40" x2="36.40" y2="319.40" stroke="#000" stroke-width="1.3" />
<text x="32.00" y="321.85" font-size="6.9" font-weight="bold" text-anchor="end" fill="#000" >0</text>
<line x1="33.00" y1="293.90" x2="36.40" y2="293.90" stroke="#000" stroke-width="1.3" />
<text x="32.00" y="296.35" font-size="6.9" font-weight="bold" text-anchor="end" fill="#000" >20</text>
<line x1="33.00" y1="268.40" x2="36.40" y2="268.40" stroke="#000" stroke-width="1.3" />
<text x="32.00" y="270.85" font-size="6.9" font-weight="bold" text-anchor="end" fill="#000" >40</text>
<line x1="33.00" y1="242.90" x2="36.40" y2="242.90" stroke="#000" stroke-width="1.3" />
<text x="32.00" y="245.35" font-size="6.9" font-weight="bold" text-anchor="end" fill="#000" >60</text>
<line x1="33.00" y1="217.40" x2="36.40" y2="217.40" stroke="#000" stroke-width="1.3" />
<text x="32.00" y="219.85" font-size="6.9" font-weight="bold" text-anchor="end" fill="#000" >80</text>
<text transform="translate(12.20,267.80) rotate(-90)" font-size="7.84" font-weight="bold" text-anchor="middle" >Fat and lean masses (%BW)</text>
<line x1="55.35" y1="273.50" x2="55.35" y2="277.50" stroke="#000" stroke-width="1.3" />
<line x1="49.05" y1="273.50" x2="61.65" y2="273.50" stroke="#000" stroke-width="1.3" />
<rect x="42.50" y="277.90" width="25.70" height="40.90" fill="#fff" stroke="#333" stroke-width="0.75"/>
<line x1="94.00" y1="264.60" x2="94.00" y2="267.20" stroke="#000" stroke-width="1.3" />
<line x1="87.70" y1="264.60" x2="100.30" y2="264.60" stroke="#000" stroke-width="1.3" />
<rect x="81.00" y="267.20" width="26.00" height="51.60" fill="#000" stroke="#000" stroke-width="0.3"/>
<line x1="132.80" y1="240.60" x2="132.80" y2="244.20" stroke="#000" stroke-width="1.3" />
<line x1="126.50" y1="240.60" x2="139.10" y2="240.60" stroke="#000" stroke-width="1.3" />
<rect x="120.00" y="244.60" width="25.60" height="74.20" fill="#fff" stroke="#333" stroke-width="0.75"/>
<line x1="170.90" y1="252.40" x2="170.90" y2="254.50" stroke="#000" stroke-width="1.3" />
<line x1="164.60" y1="252.40" x2="177.20" y2="252.40" stroke="#000" stroke-width="1.3" />
<rect x="157.90" y="254.50" width="26.00" height="64.30" fill="#000" stroke="#000" stroke-width="0.3"/>
<text x="75.90" y="332.20" font-size="7.6" font-weight="bold" text-anchor="middle" fill="#000" >Fat mass</text>
<text x="154.00" y="332.20" font-size="7.6" font-weight="bold" text-anchor="middle" fill="#000" >Lean mass</text>
<line x1="51.40" y1="244.90" x2="93.50" y2="244.90" stroke="#555" stroke-width="0.7" />
<text x="73.60" y="246.62" font-size="12" font-weight="bold" text-anchor="middle" fill="#000" >*</text>
<line x1="132.70" y1="231.40" x2="171.30" y2="231.40" stroke="#555" stroke-width="0.7" />
<text x="152.20" y="232.72" font-size="12" font-weight="bold" text-anchor="middle" fill="#000" >*</text>
<rect x="213.50" y="221.70" width="10.80" height="4.30" fill="#fff" stroke="#555" stroke-width="0.7"/>
<text x="230.40" y="226.40" font-size="7.6" font-weight="bold" text-anchor="start" fill="#000" >WT</text>
<rect x="213.10" y="234.50" width="11.30" height="4.60" fill="#000" stroke="#000" stroke-width="0.3"/>
<text x="230.60" y="239.10" font-size="7.6" font-weight="bold"><tspan font-style="italic">Pltp</tspan><tspan font-weight="normal" stroke="#000" stroke-width="0.15">-KO</tspan></text>
<text x="300.10" y="199.10" font-size="15.5" font-weight="bold" text-anchor="start" fill="#000" >C</text>
<line x1="323.00" y1="216.85" x2="323.00" y2="319.95" stroke="#000" stroke-width="1.3" />
<line x1="322.35" y1="319.30" x2="476.70" y2="319.30" stroke="#000" stroke-width="1.3" />
<line x1="319.60" y1="319.30" x2="323.00" y2="319.30" stroke="#000" stroke-width="1.3" />
<text x="318.60" y="321.60" font-size="6.6" font-weight="bold" text-anchor="end" fill="#000" >8</text>
<line x1="319.60" y1="298.94" x2="323.00" y2="298.94" stroke="#000" stroke-width="1.3" />
<text x="318.60" y="301.24" font-size="6.6" font-weight="bold" text-anchor="end" fill="#000" >10</text>
<line x1="319.60" y1="278.58" x2="323.00" y2="278.58" stroke="#000" stroke-width="1.3" />
<text x="318.60" y="280.88" font-size="6.6" font-weight="bold" text-anchor="end" fill="#000" >12</text>
<line x1="319.60" y1="258.22" x2="323.00" y2="258.22" stroke="#000" stroke-width="1.3" />
<text x="318.60" y="260.52" font-size="6.6" font-weight="bold" text-anchor="end" fill="#000" >14</text>
<line x1="319.60" y1="237.86" x2="323.00" y2="237.86" stroke="#000" stroke-width="1.3" />
<text x="318.60" y="240.16" font-size="6.6" font-weight="bold" text-anchor="end" fill="#000" >16</text>
<line x1="319.60" y1="217.50" x2="323.00" y2="217.50" stroke="#000" stroke-width="1.3" />
<text x="318.60" y="219.80" font-size="6.6" font-weight="bold" text-anchor="end" fill="#000" >18</text>
<line x1="338.60" y1="319.30" x2="338.60" y2="322.70" stroke="#000" stroke-width="1.3" />
<text x="338.60" y="330.00" font-size="7.0" font-weight="bold" text-anchor="middle" fill="#000" >20</text>
<line x1="363.60" y1="319.30" x2="363.60" y2="322.70" stroke="#000" stroke-width="1.3" />
<text x="363.60" y="330.00" font-size="7.0" font-weight="bold" text-anchor="middle" fill="#000" >40</text>
<line x1="388.60" y1="319.30" x2="388.60" y2="322.70" stroke="#000" stroke-width="1.3" />
<text x="388.60" y="330.00" font-size="7.0" font-weight="bold" text-anchor="middle" fill="#000" >60</text>
<line x1="413.60" y1="319.30" x2="413.60" y2="322.70" stroke="#000" stroke-width="1.3" />
<text x="413.60" y="330.00" font-size="7.0" font-weight="bold" text-anchor="middle" fill="#000" >80</text>
<line x1="438.60" y1="319.30" x2="438.60" y2="322.70" stroke="#000" stroke-width="1.3" />
<text x="438.60" y="330.00" font-size="7.0" font-weight="bold" text-anchor="middle" fill="#000" >100</text>
<line x1="463.60" y1="319.30" x2="463.60" y2="322.70" stroke="#000" stroke-width="1.3" />
<text x="463.60" y="330.00" font-size="7.0" font-weight="bold" text-anchor="middle" fill="#000" >120</text>
<text transform="translate(296.0,268.7) rotate(-90)" font-size="7.7" font-weight="bold" text-anchor="middle"><tspan x="0" dy="0">Food intake</tspan><tspan x="0" dy="9.5">(kcal/day/animal)</tspan></text>
<text x="399.40" y="339.90" font-size="8.0" font-weight="bold" text-anchor="middle" fill="#000" >Time (days)</text>
<polyline fill="none" stroke="#000" stroke-width="1.3" points="322.35,269.42 324.85,271.96 328.98,272.98 333.48,275.53 337.85,275.53 342.73,268.40 347.35,286.22 351.10,281.63 356.10,277.56 364.85,281.63 371.10,283.67 379.85,277.56 390.10,294.36 398.60,282.65 407.35,286.22 416.35,280.62 426.10,283.67 433.85,280.62 443.60,280.11 451.98,272.47 459.85,272.98 469.85,271.45"/>
<line x1="322.35" y1="265.35" x2="322.35" y2="273.49" stroke="#000" stroke-width="1.1" />
<line x1="320.45" y1="265.35" x2="324.25" y2="265.35" stroke="#000" stroke-width="1.1" />
<line x1="320.45" y1="273.49" x2="324.25" y2="273.49" stroke="#000" stroke-width="1.1" />
<line x1="324.85" y1="268.40" x2="324.85" y2="275.53" stroke="#000" stroke-width="1.1" />
<line x1="322.95" y1="268.40" x2="326.75" y2="268.40" stroke="#000" stroke-width="1.1" />
<line x1="322.95" y1="275.53" x2="326.75" y2="275.53" stroke="#000" stroke-width="1.1" />
<line x1="328.98" y1="268.91" x2="328.98" y2="277.05" stroke="#000" stroke-width="1.1" />
<line x1="327.08" y1="268.91" x2="330.88" y2="268.91" stroke="#000" stroke-width="1.1" />
<line x1="327.08" y1="277.05" x2="330.88" y2="277.05" stroke="#000" stroke-width="1.1" />
<line x1="333.48" y1="270.94" x2="333.48" y2="280.11" stroke="#000" stroke-width="1.1" />
<line x1="331.58" y1="270.94" x2="335.38" y2="270.94" stroke="#000" stroke-width="1.1" />
<line x1="331.58" y1="280.11" x2="335.38" y2="280.11" stroke="#000" stroke-width="1.1" />
<line x1="337.85" y1="266.36" x2="337.85" y2="284.69" stroke="#000" stroke-width="1.1" />
<line x1="335.95" y1="266.36" x2="339.75" y2="266.36" stroke="#000" stroke-width="1.1" />
<line x1="335.95" y1="284.69" x2="339.75" y2="284.69" stroke="#000" stroke-width="1.1" />
<line x1="342.73" y1="263.31" x2="342.73" y2="273.49" stroke="#000" stroke-width="1.1" />
<line x1="340.83" y1="263.31" x2="344.62" y2="263.31" stroke="#000" stroke-width="1.1" />
<line x1="340.83" y1="273.49" x2="344.62" y2="273.49" stroke="#000" stroke-width="1.1" />
<line x1="347.35" y1="281.13" x2="347.35" y2="291.31" stroke="#000" stroke-width="1.1" />
<line x1="345.45" y1="281.13" x2="349.25" y2="281.13" stroke="#000" stroke-width="1.1" />
<line x1="345.45" y1="291.31" x2="349.25" y2="291.31" stroke="#000" stroke-width="1.1" />
<line x1="351.10" y1="277.56" x2="351.10" y2="285.71" stroke="#000" stroke-width="1.1" />
<line x1="349.20" y1="277.56" x2="353.00" y2="277.56" stroke="#000" stroke-width="1.1" />
<line x1="349.20" y1="285.71" x2="353.00" y2="285.71" stroke="#000" stroke-width="1.1" />
<line x1="356.10" y1="273.49" x2="356.10" y2="281.63" stroke="#000" stroke-width="1.1" />
<line x1="354.20" y1="273.49" x2="358.00" y2="273.49" stroke="#000" stroke-width="1.1" />
<line x1="354.20" y1="281.63" x2="358.00" y2="281.63" stroke="#000" stroke-width="1.1" />
<line x1="364.85" y1="277.05" x2="364.85" y2="286.22" stroke="#000" stroke-width="1.1" />
<line x1="362.95" y1="277.05" x2="366.75" y2="277.05" stroke="#000" stroke-width="1.1" />
<line x1="362.95" y1="286.22" x2="366.75" y2="286.22" stroke="#000" stroke-width="1.1" />
<line x1="371.10" y1="277.56" x2="371.10" y2="289.78" stroke="#000" stroke-width="1.1" />
<line x1="369.20" y1="277.56" x2="373.00" y2="277.56" stroke="#000" stroke-width="1.1" />
<line x1="369.20" y1="289.78" x2="373.00" y2="289.78" stroke="#000" stroke-width="1.1" />
<line x1="379.85" y1="273.49" x2="379.85" y2="281.63" stroke="#000" stroke-width="1.1" />
<line x1="377.95" y1="273.49" x2="381.75" y2="273.49" stroke="#000" stroke-width="1.1" />
<line x1="377.95" y1="281.63" x2="381.75" y2="281.63" stroke="#000" stroke-width="1.1" />
<line x1="390.10" y1="289.27" x2="390.10" y2="299.45" stroke="#000" stroke-width="1.1" />
<line x1="388.20" y1="289.27" x2="392.00" y2="289.27" stroke="#000" stroke-width="1.1" />
<line x1="388.20" y1="299.45" x2="392.00" y2="299.45" stroke="#000" stroke-width="1.1" />
<line x1="398.60" y1="277.56" x2="398.60" y2="287.74" stroke="#000" stroke-width="1.1" />
<line x1="396.70" y1="277.56" x2="400.50" y2="277.56" stroke="#000" stroke-width="1.1" />
<line x1="396.70" y1="287.74" x2="400.50" y2="287.74" stroke="#000" stroke-width="1.1" />
<line x1="407.35" y1="280.62" x2="407.35" y2="291.81" stroke="#000" stroke-width="1.1" />
<line x1="405.45" y1="280.62" x2="409.25" y2="280.62" stroke="#000" stroke-width="1.1" />
<line x1="405.45" y1="291.81" x2="409.25" y2="291.81" stroke="#000" stroke-width="1.1" />
<line x1="416.35" y1="275.53" x2="416.35" y2="285.71" stroke="#000" stroke-width="1.1" />
<line x1="414.45" y1="275.53" x2="418.25" y2="275.53" stroke="#000" stroke-width="1.1" />
<line x1="414.45" y1="285.71" x2="418.25" y2="285.71" stroke="#000" stroke-width="1.1" />
<line x1="426.10" y1="278.07" x2="426.10" y2="289.27" stroke="#000" stroke-width="1.1" />
<line x1="424.20" y1="278.07" x2="428.00" y2="278.07" stroke="#000" stroke-width="1.1" />
<line x1="424.20" y1="289.27" x2="428.00" y2="289.27" stroke="#000" stroke-width="1.1" />
<line x1="433.85" y1="275.53" x2="433.85" y2="285.71" stroke="#000" stroke-width="1.1" />
<line x1="431.95" y1="275.53" x2="435.75" y2="275.53" stroke="#000" stroke-width="1.1" />
<line x1="431.95" y1="285.71" x2="435.75" y2="285.71" stroke="#000" stroke-width="1.1" />
<line x1="443.60" y1="274.51" x2="443.60" y2="285.71" stroke="#000" stroke-width="1.1" />
<line x1="441.70" y1="274.51" x2="445.50" y2="274.51" stroke="#000" stroke-width="1.1" />
<line x1="441.70" y1="285.71" x2="445.50" y2="285.71" stroke="#000" stroke-width="1.1" />
<line x1="451.98" y1="267.89" x2="451.98" y2="277.05" stroke="#000" stroke-width="1.1" />
<line x1="450.08" y1="267.89" x2="453.88" y2="267.89" stroke="#000" stroke-width="1.1" />
<line x1="450.08" y1="277.05" x2="453.88" y2="277.05" stroke="#000" stroke-width="1.1" />
<line x1="459.85" y1="267.38" x2="459.85" y2="278.58" stroke="#000" stroke-width="1.1" />
<line x1="457.95" y1="267.38" x2="461.75" y2="267.38" stroke="#000" stroke-width="1.1" />
<line x1="457.95" y1="278.58" x2="461.75" y2="278.58" stroke="#000" stroke-width="1.1" />
<line x1="469.85" y1="265.86" x2="469.85" y2="277.05" stroke="#000" stroke-width="1.1" />
<line x1="467.95" y1="265.86" x2="471.75" y2="265.86" stroke="#000" stroke-width="1.1" />
<line x1="467.95" y1="277.05" x2="471.75" y2="277.05" stroke="#000" stroke-width="1.1" />
<rect x="320.25" y="267.32" width="4.2" height="4.2" fill="#000"/>
<rect x="322.75" y="269.86" width="4.2" height="4.2" fill="#000"/>
<rect x="326.88" y="270.88" width="4.2" height="4.2" fill="#000"/>
<rect x="331.38" y="273.43" width="4.2" height="4.2" fill="#000"/>
<rect x="335.75" y="273.43" width="4.2" height="4.2" fill="#000"/>
<rect x="340.62" y="266.30" width="4.2" height="4.2" fill="#000"/>
<rect x="345.25" y="284.12" width="4.2" height="4.2" fill="#000"/>
<rect x="349.00" y="279.53" width="4.2" height="4.2" fill="#000"/>
<rect x="354.00" y="275.46" width="4.2" height="4.2" fill="#000"/>
<rect x="362.75" y="279.53" width="4.2" height="4.2" fill="#000"/>
<rect x="369.00" y="281.57" width="4.2" height="4.2" fill="#000"/>
<rect x="377.75" y="275.46" width="4.2" height="4.2" fill="#000"/>
<rect x="388.00" y="292.26" width="4.2" height="4.2" fill="#000"/>
<rect x="396.50" y="280.55" width="4.2" height="4.2" fill="#000"/>
<rect x="405.25" y="284.12" width="4.2" height="4.2" fill="#000"/>
<rect x="414.25" y="278.52" width="4.2" height="4.2" fill="#000"/>
<rect x="424.00" y="281.57" width="4.2" height="4.2" fill="#000"/>
<rect x="431.75" y="278.52" width="4.2" height="4.2" fill="#000"/>
<rect x="441.50" y="278.01" width="4.2" height="4.2" fill="#000"/>
<rect x="449.88" y="270.37" width="4.2" height="4.2" fill="#000"/>
<rect x="457.75" y="270.88" width="4.2" height="4.2" fill="#000"/>
<rect x="467.75" y="269.35" width="4.2" height="4.2" fill="#000"/>
<polyline fill="none" stroke="#000" stroke-width="1.3" points="322.35,268.40 324.85,271.45 328.98,275.53 333.48,280.62 337.85,267.38 342.73,266.36 347.35,277.56 351.10,278.58 356.10,264.33 364.85,278.58 371.10,280.62 379.85,274.51 390.10,289.78 398.60,277.56 407.35,280.62 416.35,279.09 426.10,277.56 433.85,277.56 443.60,276.54 451.98,269.42 459.85,269.42 469.85,267.89"/>
<line x1="322.35" y1="265.35" x2="322.35" y2="271.45" stroke="#000" stroke-width="1.1" />
<line x1="320.45" y1="265.35" x2="324.25" y2="265.35" stroke="#000" stroke-width="1.1" />
<line x1="320.45" y1="271.45" x2="324.25" y2="271.45" stroke="#000" stroke-width="1.1" />
<line x1="324.85" y1="268.91" x2="324.85" y2="274.00" stroke="#000" stroke-width="1.1" />
<line x1="322.95" y1="268.91" x2="326.75" y2="268.91" stroke="#000" stroke-width="1.1" />
<line x1="322.95" y1="274.00" x2="326.75" y2="274.00" stroke="#000" stroke-width="1.1" />
<line x1="328.98" y1="272.47" x2="328.98" y2="278.58" stroke="#000" stroke-width="1.1" />
<line x1="327.08" y1="272.47" x2="330.88" y2="272.47" stroke="#000" stroke-width="1.1" />
<line x1="327.08" y1="278.58" x2="330.88" y2="278.58" stroke="#000" stroke-width="1.1" />
<line x1="333.48" y1="277.56" x2="333.48" y2="283.67" stroke="#000" stroke-width="1.1" />
<line x1="331.58" y1="277.56" x2="335.38" y2="277.56" stroke="#000" stroke-width="1.1" />
<line x1="331.58" y1="283.67" x2="335.38" y2="283.67" stroke="#000" stroke-width="1.1" />
<line x1="337.85" y1="264.33" x2="337.85" y2="270.44" stroke="#000" stroke-width="1.1" />
<line x1="335.95" y1="264.33" x2="339.75" y2="264.33" stroke="#000" stroke-width="1.1" />
<line x1="335.95" y1="270.44" x2="339.75" y2="270.44" stroke="#000" stroke-width="1.1" />
<line x1="342.73" y1="263.31" x2="342.73" y2="269.42" stroke="#000" stroke-width="1.1" />
<line x1="340.83" y1="263.31" x2="344.62" y2="263.31" stroke="#000" stroke-width="1.1" />
<line x1="340.83" y1="269.42" x2="344.62" y2="269.42" stroke="#000" stroke-width="1.1" />
<line x1="347.35" y1="274.51" x2="347.35" y2="280.62" stroke="#000" stroke-width="1.1" />
<line x1="345.45" y1="274.51" x2="349.25" y2="274.51" stroke="#000" stroke-width="1.1" />
<line x1="345.45" y1="280.62" x2="349.25" y2="280.62" stroke="#000" stroke-width="1.1" />
<line x1="351.10" y1="276.04" x2="351.10" y2="281.13" stroke="#000" stroke-width="1.1" />
<line x1="349.20" y1="276.04" x2="353.00" y2="276.04" stroke="#000" stroke-width="1.1" />
<line x1="349.20" y1="281.13" x2="353.00" y2="281.13" stroke="#000" stroke-width="1.1" />
<line x1="356.10" y1="261.27" x2="356.10" y2="267.38" stroke="#000" stroke-width="1.1" />
<line x1="354.20" y1="261.27" x2="358.00" y2="261.27" stroke="#000" stroke-width="1.1" />
<line x1="354.20" y1="267.38" x2="358.00" y2="267.38" stroke="#000" stroke-width="1.1" />
<line x1="364.85" y1="275.53" x2="364.85" y2="281.63" stroke="#000" stroke-width="1.1" />
<line x1="362.95" y1="275.53" x2="366.75" y2="275.53" stroke="#000" stroke-width="1.1" />
<line x1="362.95" y1="281.63" x2="366.75" y2="281.63" stroke="#000" stroke-width="1.1" />
<line x1="371.10" y1="278.07" x2="371.10" y2="283.16" stroke="#000" stroke-width="1.1" />
<line x1="369.20" y1="278.07" x2="373.00" y2="278.07" stroke="#000" stroke-width="1.1" />
<line x1="369.20" y1="283.16" x2="373.00" y2="283.16" stroke="#000" stroke-width="1.1" />
<line x1="379.85" y1="271.45" x2="379.85" y2="277.56" stroke="#000" stroke-width="1.1" />
<line x1="377.95" y1="271.45" x2="381.75" y2="271.45" stroke="#000" stroke-width="1.1" />
<line x1="377.95" y1="277.56" x2="381.75" y2="277.56" stroke="#000" stroke-width="1.1" />
<line x1="390.10" y1="286.72" x2="390.10" y2="292.83" stroke="#000" stroke-width="1.1" />
<line x1="388.20" y1="286.72" x2="392.00" y2="286.72" stroke="#000" stroke-width="1.1" />
<line x1="388.20" y1="292.83" x2="392.00" y2="292.83" stroke="#000" stroke-width="1.1" />
<line x1="398.60" y1="274.51" x2="398.60" y2="280.62" stroke="#000" stroke-width="1.1" />
<line x1="396.70" y1="274.51" x2="400.50" y2="274.51" stroke="#000" stroke-width="1.1" />
<line x1="396.70" y1="280.62" x2="400.50" y2="280.62" stroke="#000" stroke-width="1.1" />
<line x1="407.35" y1="278.07" x2="407.35" y2="283.16" stroke="#000" stroke-width="1.1" />
<line x1="405.45" y1="278.07" x2="409.25" y2="278.07" stroke="#000" stroke-width="1.1" />
<line x1="405.45" y1="283.16" x2="409.25" y2="283.16" stroke="#000" stroke-width="1.1" />
<line x1="416.35" y1="276.04" x2="416.35" y2="282.14" stroke="#000" stroke-width="1.1" />
<line x1="414.45" y1="276.04" x2="418.25" y2="276.04" stroke="#000" stroke-width="1.1" />
<line x1="414.45" y1="282.14" x2="418.25" y2="282.14" stroke="#000" stroke-width="1.1" />
<line x1="426.10" y1="274.51" x2="426.10" y2="280.62" stroke="#000" stroke-width="1.1" />
<line x1="424.20" y1="274.51" x2="428.00" y2="274.51" stroke="#000" stroke-width="1.1" />
<line x1="424.20" y1="280.62" x2="428.00" y2="280.62" stroke="#000" stroke-width="1.1" />
<line x1="433.85" y1="274.51" x2="433.85" y2="280.62" stroke="#000" stroke-width="1.1" />
<line x1="431.95" y1="274.51" x2="435.75" y2="274.51" stroke="#000" stroke-width="1.1" />
<line x1="431.95" y1="280.62" x2="435.75" y2="280.62" stroke="#000" stroke-width="1.1" />
<line x1="443.60" y1="273.49" x2="443.60" y2="279.60" stroke="#000" stroke-width="1.1" />
<line x1="441.70" y1="273.49" x2="445.50" y2="273.49" stroke="#000" stroke-width="1.1" />
<line x1="441.70" y1="279.60" x2="445.50" y2="279.60" stroke="#000" stroke-width="1.1" />
<line x1="451.98" y1="265.86" x2="451.98" y2="272.98" stroke="#000" stroke-width="1.1" />
<line x1="450.08" y1="265.86" x2="453.88" y2="265.86" stroke="#000" stroke-width="1.1" />
<line x1="450.08" y1="272.98" x2="453.88" y2="272.98" stroke="#000" stroke-width="1.1" />
<line x1="459.85" y1="265.86" x2="459.85" y2="272.98" stroke="#000" stroke-width="1.1" />
<line x1="457.95" y1="265.86" x2="461.75" y2="265.86" stroke="#000" stroke-width="1.1" />
<line x1="457.95" y1="272.98" x2="461.75" y2="272.98" stroke="#000" stroke-width="1.1" />
<line x1="469.85" y1="263.82" x2="469.85" y2="271.96" stroke="#000" stroke-width="1.1" />
<line x1="467.95" y1="263.82" x2="471.75" y2="263.82" stroke="#000" stroke-width="1.1" />
<line x1="467.95" y1="271.96" x2="471.75" y2="271.96" stroke="#000" stroke-width="1.1" />
<circle cx="322.35" cy="268.40" r="1.65" fill="#fff" stroke="#000" stroke-width="1.4"/>
<circle cx="324.85" cy="271.45" r="1.65" fill="#fff" stroke="#000" stroke-width="1.4"/>
<circle cx="328.98" cy="275.53" r="1.65" fill="#fff" stroke="#000" stroke-width="1.4"/>
<circle cx="333.48" cy="280.62" r="1.65" fill="#fff" stroke="#000" stroke-width="1.4"/>
<circle cx="337.85" cy="267.38" r="1.65" fill="#fff" stroke="#000" stroke-width="1.4"/>
<circle cx="342.73" cy="266.36" r="1.65" fill="#fff" stroke="#000" stroke-width="1.4"/>
<circle cx="347.35" cy="277.56" r="1.65" fill="#fff" stroke="#000" stroke-width="1.4"/>
<circle cx="351.10" cy="278.58" r="1.65" fill="#fff" stroke="#000" stroke-width="1.4"/>
<circle cx="356.10" cy="264.33" r="1.65" fill="#fff" stroke="#000" stroke-width="1.4"/>
<circle cx="364.85" cy="278.58" r="1.65" fill="#fff" stroke="#000" stroke-width="1.4"/>
<circle cx="371.10" cy="280.62" r="1.65" fill="#fff" stroke="#000" stroke-width="1.4"/>
<circle cx="379.85" cy="274.51" r="1.65" fill="#fff" stroke="#000" stroke-width="1.4"/>
<circle cx="390.10" cy="289.78" r="1.65" fill="#fff" stroke="#000" stroke-width="1.4"/>
<circle cx="398.60" cy="277.56" r="1.65" fill="#fff" stroke="#000" stroke-width="1.4"/>
<circle cx="407.35" cy="280.62" r="1.65" fill="#fff" stroke="#000" stroke-width="1.4"/>
<circle cx="416.35" cy="279.09" r="1.65" fill="#fff" stroke="#000" stroke-width="1.4"/>
<circle cx="426.10" cy="277.56" r="1.65" fill="#fff" stroke="#000" stroke-width="1.4"/>
<circle cx="433.85" cy="277.56" r="1.65" fill="#fff" stroke="#000" stroke-width="1.4"/>
<circle cx="443.60" cy="276.54" r="1.65" fill="#fff" stroke="#000" stroke-width="1.4"/>
<circle cx="451.98" cy="269.42" r="1.65" fill="#fff" stroke="#000" stroke-width="1.4"/>
<circle cx="459.85" cy="269.42" r="1.65" fill="#fff" stroke="#000" stroke-width="1.4"/>
<circle cx="469.85" cy="267.89" r="1.65" fill="#fff" stroke="#000" stroke-width="1.4"/>
<polyline fill="none" stroke="#000" stroke-width="1.3" points="322.35,261.27 328.98,243.97 333.48,259.75 338.60,253.13 342.73,260.26 347.35,244.99 355.35,258.22 360.23,265.35 364.98,253.13 369.10,261.27 375.23,272.47 379.85,262.29 386.10,253.13 392.35,258.73 398.85,254.66 403.60,253.13 408.48,251.09 417.23,259.24 425.10,244.99 435.98,259.75 442.35,252.11 451.98,254.66 459.85,263.31 469.85,262.29"/>
<line x1="322.35" y1="256.69" x2="322.35" y2="265.86" stroke="#000" stroke-width="1.1" />
<line x1="320.45" y1="256.69" x2="324.25" y2="256.69" stroke="#000" stroke-width="1.1" />
<line x1="320.45" y1="265.86" x2="324.25" y2="265.86" stroke="#000" stroke-width="1.1" />
<line x1="328.98" y1="235.82" x2="328.98" y2="252.11" stroke="#000" stroke-width="1.1" />
<line x1="327.08" y1="235.82" x2="330.88" y2="235.82" stroke="#000" stroke-width="1.1" />
<line x1="327.08" y1="252.11" x2="330.88" y2="252.11" stroke="#000" stroke-width="1.1" />
<line x1="333.48" y1="254.66" x2="333.48" y2="264.84" stroke="#000" stroke-width="1.1" />
<line x1="331.58" y1="254.66" x2="335.38" y2="254.66" stroke="#000" stroke-width="1.1" />
<line x1="331.58" y1="264.84" x2="335.38" y2="264.84" stroke="#000" stroke-width="1.1" />
<line x1="338.60" y1="246.00" x2="338.60" y2="260.26" stroke="#000" stroke-width="1.1" />
<line x1="336.70" y1="246.00" x2="340.50" y2="246.00" stroke="#000" stroke-width="1.1" />
<line x1="336.70" y1="260.26" x2="340.50" y2="260.26" stroke="#000" stroke-width="1.1" />
<line x1="342.73" y1="255.17" x2="342.73" y2="265.35" stroke="#000" stroke-width="1.1" />
<line x1="340.83" y1="255.17" x2="344.62" y2="255.17" stroke="#000" stroke-width="1.1" />
<line x1="340.83" y1="265.35" x2="344.62" y2="265.35" stroke="#000" stroke-width="1.1" />
<line x1="347.35" y1="239.39" x2="347.35" y2="250.58" stroke="#000" stroke-width="1.1" />
<line x1="345.45" y1="239.39" x2="349.25" y2="239.39" stroke="#000" stroke-width="1.1" />
<line x1="345.45" y1="250.58" x2="349.25" y2="250.58" stroke="#000" stroke-width="1.1" />
<line x1="355.35" y1="253.13" x2="355.35" y2="263.31" stroke="#000" stroke-width="1.1" />
<line x1="353.45" y1="253.13" x2="357.25" y2="253.13" stroke="#000" stroke-width="1.1" />
<line x1="353.45" y1="263.31" x2="357.25" y2="263.31" stroke="#000" stroke-width="1.1" />
<line x1="360.23" y1="260.76" x2="360.23" y2="269.93" stroke="#000" stroke-width="1.1" />
<line x1="358.33" y1="260.76" x2="362.12" y2="260.76" stroke="#000" stroke-width="1.1" />
<line x1="358.33" y1="269.93" x2="362.12" y2="269.93" stroke="#000" stroke-width="1.1" />
<line x1="364.98" y1="248.04" x2="364.98" y2="258.22" stroke="#000" stroke-width="1.1" />
<line x1="363.08" y1="248.04" x2="366.88" y2="248.04" stroke="#000" stroke-width="1.1" />
<line x1="363.08" y1="258.22" x2="366.88" y2="258.22" stroke="#000" stroke-width="1.1" />
<line x1="369.10" y1="256.18" x2="369.10" y2="266.36" stroke="#000" stroke-width="1.1" />
<line x1="367.20" y1="256.18" x2="371.00" y2="256.18" stroke="#000" stroke-width="1.1" />
<line x1="367.20" y1="266.36" x2="371.00" y2="266.36" stroke="#000" stroke-width="1.1" />
<line x1="375.23" y1="267.38" x2="375.23" y2="277.56" stroke="#000" stroke-width="1.1" />
<line x1="373.33" y1="267.38" x2="377.12" y2="267.38" stroke="#000" stroke-width="1.1" />
<line x1="373.33" y1="277.56" x2="377.12" y2="277.56" stroke="#000" stroke-width="1.1" />
<line x1="379.85" y1="257.71" x2="379.85" y2="266.87" stroke="#000" stroke-width="1.1" />
<line x1="377.95" y1="257.71" x2="381.75" y2="257.71" stroke="#000" stroke-width="1.1" />
<line x1="377.95" y1="266.87" x2="381.75" y2="266.87" stroke="#000" stroke-width="1.1" />
<line x1="386.10" y1="248.04" x2="386.10" y2="258.22" stroke="#000" stroke-width="1.1" />
<line x1="384.20" y1="248.04" x2="388.00" y2="248.04" stroke="#000" stroke-width="1.1" />
<line x1="384.20" y1="258.22" x2="388.00" y2="258.22" stroke="#000" stroke-width="1.1" />
<line x1="392.35" y1="254.15" x2="392.35" y2="263.31" stroke="#000" stroke-width="1.1" />
<line x1="390.45" y1="254.15" x2="394.25" y2="254.15" stroke="#000" stroke-width="1.1" />
<line x1="390.45" y1="263.31" x2="394.25" y2="263.31" stroke="#000" stroke-width="1.1" />
<line x1="398.85" y1="249.57" x2="398.85" y2="259.75" stroke="#000" stroke-width="1.1" />
<line x1="396.95" y1="249.57" x2="400.75" y2="249.57" stroke="#000" stroke-width="1.1" />
<line x1="396.95" y1="259.75" x2="400.75" y2="259.75" stroke="#000" stroke-width="1.1" />
<line x1="403.60" y1="249.06" x2="403.60" y2="257.20" stroke="#000" stroke-width="1.1" />
<line x1="401.70" y1="249.06" x2="405.50" y2="249.06" stroke="#000" stroke-width="1.1" />
<line x1="401.70" y1="257.20" x2="405.50" y2="257.20" stroke="#000" stroke-width="1.1" />
<line x1="408.48" y1="247.02" x2="408.48" y2="255.17" stroke="#000" stroke-width="1.1" />
<line x1="406.58" y1="247.02" x2="410.38" y2="247.02" stroke="#000" stroke-width="1.1" />
<line x1="406.58" y1="255.17" x2="410.38" y2="255.17" stroke="#000" stroke-width="1.1" />
<line x1="417.23" y1="254.15" x2="417.23" y2="264.33" stroke="#000" stroke-width="1.1" />
<line x1="415.33" y1="254.15" x2="419.12" y2="254.15" stroke="#000" stroke-width="1.1" />
<line x1="415.33" y1="264.33" x2="419.12" y2="264.33" stroke="#000" stroke-width="1.1" />
<line x1="425.10" y1="239.39" x2="425.10" y2="250.58" stroke="#000" stroke-width="1.1" />
<line x1="423.20" y1="239.39" x2="427.00" y2="239.39" stroke="#000" stroke-width="1.1" />
<line x1="423.20" y1="250.58" x2="427.00" y2="250.58" stroke="#000" stroke-width="1.1" />
<line x1="435.98" y1="252.62" x2="435.98" y2="266.87" stroke="#000" stroke-width="1.1" />
<line x1="434.08" y1="252.62" x2="437.88" y2="252.62" stroke="#000" stroke-width="1.1" />
<line x1="434.08" y1="266.87" x2="437.88" y2="266.87" stroke="#000" stroke-width="1.1" />
<line x1="442.35" y1="246.00" x2="442.35" y2="258.22" stroke="#000" stroke-width="1.1" />
<line x1="440.45" y1="246.00" x2="444.25" y2="246.00" stroke="#000" stroke-width="1.1" />
<line x1="440.45" y1="258.22" x2="444.25" y2="258.22" stroke="#000" stroke-width="1.1" />
<line x1="451.98" y1="250.08" x2="451.98" y2="259.24" stroke="#000" stroke-width="1.1" />
<line x1="450.08" y1="250.08" x2="453.88" y2="250.08" stroke="#000" stroke-width="1.1" />
<line x1="450.08" y1="259.24" x2="453.88" y2="259.24" stroke="#000" stroke-width="1.1" />
<line x1="459.85" y1="258.22" x2="459.85" y2="268.40" stroke="#000" stroke-width="1.1" />
<line x1="457.95" y1="258.22" x2="461.75" y2="258.22" stroke="#000" stroke-width="1.1" />
<line x1="457.95" y1="268.40" x2="461.75" y2="268.40" stroke="#000" stroke-width="1.1" />
<line x1="469.85" y1="255.17" x2="469.85" y2="269.42" stroke="#000" stroke-width="1.1" />
<line x1="467.95" y1="255.17" x2="471.75" y2="255.17" stroke="#000" stroke-width="1.1" />
<line x1="467.95" y1="269.42" x2="471.75" y2="269.42" stroke="#000" stroke-width="1.1" />
<rect x="320.25" y="259.17" width="4.2" height="4.2" fill="#000"/>
<rect x="326.88" y="241.87" width="4.2" height="4.2" fill="#000"/>
<rect x="331.38" y="257.65" width="4.2" height="4.2" fill="#000"/>
<rect x="336.50" y="251.03" width="4.2" height="4.2" fill="#000"/>
<rect x="340.62" y="258.16" width="4.2" height="4.2" fill="#000"/>
<rect x="345.25" y="242.89" width="4.2" height="4.2" fill="#000"/>
<rect x="353.25" y="256.12" width="4.2" height="4.2" fill="#000"/>
<rect x="358.12" y="263.25" width="4.2" height="4.2" fill="#000"/>
<rect x="362.88" y="251.03" width="4.2" height="4.2" fill="#000"/>
<rect x="367.00" y="259.17" width="4.2" height="4.2" fill="#000"/>
<rect x="373.12" y="270.37" width="4.2" height="4.2" fill="#000"/>
<rect x="377.75" y="260.19" width="4.2" height="4.2" fill="#000"/>
<rect x="384.00" y="251.03" width="4.2" height="4.2" fill="#000"/>
<rect x="390.25" y="256.63" width="4.2" height="4.2" fill="#000"/>
<rect x="396.75" y="252.56" width="4.2" height="4.2" fill="#000"/>
<rect x="401.50" y="251.03" width="4.2" height="4.2" fill="#000"/>
<rect x="406.38" y="248.99" width="4.2" height="4.2" fill="#000"/>
<rect x="415.12" y="257.14" width="4.2" height="4.2" fill="#000"/>
<rect x="423.00" y="242.89" width="4.2" height="4.2" fill="#000"/>
<rect x="433.88" y="257.65" width="4.2" height="4.2" fill="#000"/>
<rect x="440.25" y="250.01" width="4.2" height="4.2" fill="#000"/>
<rect x="449.88" y="252.56" width="4.2" height="4.2" fill="#000"/>
<rect x="457.75" y="261.21" width="4.2" height="4.2" fill="#000"/>
<rect x="467.75" y="260.19" width="4.2" height="4.2" fill="#000"/>
<polyline fill="none" stroke="#000" stroke-width="1.3" points="322.35,261.27 328.98,256.18 333.48,254.15 338.60,257.20 342.73,256.18 347.35,240.41 355.35,248.55 360.23,253.13 364.98,242.44 369.10,250.08 375.23,257.20 379.85,249.06 386.10,246.00 392.35,250.59 398.85,242.44 403.60,243.97 408.48,250.08 417.23,247.02 425.10,238.88 435.98,254.66 442.35,244.99 451.98,240.91 459.85,251.09 469.85,249.57"/>
<line x1="322.35" y1="257.71" x2="322.35" y2="264.84" stroke="#000" stroke-width="1.1" />
<line x1="320.45" y1="257.71" x2="324.25" y2="257.71" stroke="#000" stroke-width="1.1" />
<line x1="320.45" y1="264.84" x2="324.25" y2="264.84" stroke="#000" stroke-width="1.1" />
<line x1="328.98" y1="253.13" x2="328.98" y2="259.24" stroke="#000" stroke-width="1.1" />
<line x1="327.08" y1="253.13" x2="330.88" y2="253.13" stroke="#000" stroke-width="1.1" />
<line x1="327.08" y1="259.24" x2="330.88" y2="259.24" stroke="#000" stroke-width="1.1" />
<line x1="333.48" y1="251.09" x2="333.48" y2="257.20" stroke="#000" stroke-width="1.1" />
<line x1="331.58" y1="251.09" x2="335.38" y2="251.09" stroke="#000" stroke-width="1.1" />
<line x1="331.58" y1="257.20" x2="335.38" y2="257.20" stroke="#000" stroke-width="1.1" />
<line x1="338.60" y1="253.64" x2="338.60" y2="260.76" stroke="#000" stroke-width="1.1" />
<line x1="336.70" y1="253.64" x2="340.50" y2="253.64" stroke="#000" stroke-width="1.1" />
<line x1="336.70" y1="260.76" x2="340.50" y2="260.76" stroke="#000" stroke-width="1.1" />
<line x1="342.73" y1="253.13" x2="342.73" y2="259.24" stroke="#000" stroke-width="1.1" />
<line x1="340.83" y1="253.13" x2="344.62" y2="253.13" stroke="#000" stroke-width="1.1" />
<line x1="340.83" y1="259.24" x2="344.62" y2="259.24" stroke="#000" stroke-width="1.1" />
<line x1="347.35" y1="236.33" x2="347.35" y2="244.48" stroke="#000" stroke-width="1.1" />
<line x1="345.45" y1="236.33" x2="349.25" y2="236.33" stroke="#000" stroke-width="1.1" />
<line x1="345.45" y1="244.48" x2="349.25" y2="244.48" stroke="#000" stroke-width="1.1" />
<line x1="355.35" y1="244.99" x2="355.35" y2="252.11" stroke="#000" stroke-width="1.1" />
<line x1="353.45" y1="244.99" x2="357.25" y2="244.99" stroke="#000" stroke-width="1.1" />
<line x1="353.45" y1="252.11" x2="357.25" y2="252.11" stroke="#000" stroke-width="1.1" />
<line x1="360.23" y1="250.08" x2="360.23" y2="256.18" stroke="#000" stroke-width="1.1" />
<line x1="358.33" y1="250.08" x2="362.12" y2="250.08" stroke="#000" stroke-width="1.1" />
<line x1="358.33" y1="256.18" x2="362.12" y2="256.18" stroke="#000" stroke-width="1.1" />
<line x1="364.98" y1="238.37" x2="364.98" y2="246.51" stroke="#000" stroke-width="1.1" />
<line x1="363.08" y1="238.37" x2="366.88" y2="238.37" stroke="#000" stroke-width="1.1" />
<line x1="363.08" y1="246.51" x2="366.88" y2="246.51" stroke="#000" stroke-width="1.1" />
<line x1="369.10" y1="246.51" x2="369.10" y2="253.64" stroke="#000" stroke-width="1.1" />
<line x1="367.20" y1="246.51" x2="371.00" y2="246.51" stroke="#000" stroke-width="1.1" />
<line x1="367.20" y1="253.64" x2="371.00" y2="253.64" stroke="#000" stroke-width="1.1" />
<line x1="375.23" y1="253.64" x2="375.23" y2="260.76" stroke="#000" stroke-width="1.1" />
<line x1="373.33" y1="253.64" x2="377.12" y2="253.64" stroke="#000" stroke-width="1.1" />
<line x1="373.33" y1="260.76" x2="377.12" y2="260.76" stroke="#000" stroke-width="1.1" />
<line x1="379.85" y1="246.00" x2="379.85" y2="252.11" stroke="#000" stroke-width="1.1" />
<line x1="377.95" y1="246.00" x2="381.75" y2="246.00" stroke="#000" stroke-width="1.1" />
<line x1="377.95" y1="252.11" x2="381.75" y2="252.11" stroke="#000" stroke-width="1.1" />
<line x1="386.10" y1="242.44" x2="386.10" y2="249.57" stroke="#000" stroke-width="1.1" />
<line x1="384.20" y1="242.44" x2="388.00" y2="242.44" stroke="#000" stroke-width="1.1" />
<line x1="384.20" y1="249.57" x2="388.00" y2="249.57" stroke="#000" stroke-width="1.1" />
<line x1="392.35" y1="247.53" x2="392.35" y2="253.64" stroke="#000" stroke-width="1.1" />
<line x1="390.45" y1="247.53" x2="394.25" y2="247.53" stroke="#000" stroke-width="1.1" />
<line x1="390.45" y1="253.64" x2="394.25" y2="253.64" stroke="#000" stroke-width="1.1" />
<line x1="398.85" y1="238.37" x2="398.85" y2="246.51" stroke="#000" stroke-width="1.1" />
<line x1="396.95" y1="238.37" x2="400.75" y2="238.37" stroke="#000" stroke-width="1.1" />
<line x1="396.95" y1="246.51" x2="400.75" y2="246.51" stroke="#000" stroke-width="1.1" />
<line x1="403.60" y1="240.91" x2="403.60" y2="247.02" stroke="#000" stroke-width="1.1" />
<line x1="401.70" y1="240.91" x2="405.50" y2="240.91" stroke="#000" stroke-width="1.1" />
<line x1="401.70" y1="247.02" x2="405.50" y2="247.02" stroke="#000" stroke-width="1.1" />
<line x1="408.48" y1="247.02" x2="408.48" y2="253.13" stroke="#000" stroke-width="1.1" />
<line x1="406.58" y1="247.02" x2="410.38" y2="247.02" stroke="#000" stroke-width="1.1" />
<line x1="406.58" y1="253.13" x2="410.38" y2="253.13" stroke="#000" stroke-width="1.1" />
<line x1="417.23" y1="243.97" x2="417.23" y2="250.08" stroke="#000" stroke-width="1.1" />
<line x1="415.33" y1="243.97" x2="419.12" y2="243.97" stroke="#000" stroke-width="1.1" />
<line x1="415.33" y1="250.08" x2="419.12" y2="250.08" stroke="#000" stroke-width="1.1" />
<line x1="425.10" y1="234.30" x2="425.10" y2="243.46" stroke="#000" stroke-width="1.1" />
<line x1="423.20" y1="234.30" x2="427.00" y2="234.30" stroke="#000" stroke-width="1.1" />
<line x1="423.20" y1="243.46" x2="427.00" y2="243.46" stroke="#000" stroke-width="1.1" />
<line x1="435.98" y1="250.59" x2="435.98" y2="258.73" stroke="#000" stroke-width="1.1" />
<line x1="434.08" y1="250.59" x2="437.88" y2="250.59" stroke="#000" stroke-width="1.1" />
<line x1="434.08" y1="258.73" x2="437.88" y2="258.73" stroke="#000" stroke-width="1.1" />
<line x1="442.35" y1="240.41" x2="442.35" y2="249.57" stroke="#000" stroke-width="1.1" />
<line x1="440.45" y1="240.41" x2="444.25" y2="240.41" stroke="#000" stroke-width="1.1" />
<line x1="440.45" y1="249.57" x2="444.25" y2="249.57" stroke="#000" stroke-width="1.1" />
<line x1="451.98" y1="236.33" x2="451.98" y2="245.50" stroke="#000" stroke-width="1.1" />
<line x1="450.08" y1="236.33" x2="453.88" y2="236.33" stroke="#000" stroke-width="1.1" />
<line x1="450.08" y1="245.50" x2="453.88" y2="245.50" stroke="#000" stroke-width="1.1" />
<line x1="459.85" y1="248.04" x2="459.85" y2="254.15" stroke="#000" stroke-width="1.1" />
<line x1="457.95" y1="248.04" x2="461.75" y2="248.04" stroke="#000" stroke-width="1.1" />
<line x1="457.95" y1="254.15" x2="461.75" y2="254.15" stroke="#000" stroke-width="1.1" />
<line x1="469.85" y1="245.50" x2="469.85" y2="253.64" stroke="#000" stroke-width="1.1" />
<line x1="467.95" y1="245.50" x2="471.75" y2="245.50" stroke="#000" stroke-width="1.1" />
<line x1="467.95" y1="253.64" x2="471.75" y2="253.64" stroke="#000" stroke-width="1.1" />
<circle cx="322.35" cy="261.27" r="1.65" fill="#fff" stroke="#000" stroke-width="1.4"/>
<circle cx="328.98" cy="256.18" r="1.65" fill="#fff" stroke="#000" stroke-width="1.4"/>
<circle cx="333.48" cy="254.15" r="1.65" fill="#fff" stroke="#000" stroke-width="1.4"/>
<circle cx="338.60" cy="257.20" r="1.65" fill="#fff" stroke="#000" stroke-width="1.4"/>
<circle cx="342.73" cy="256.18" r="1.65" fill="#fff" stroke="#000" stroke-width="1.4"/>
<circle cx="347.35" cy="240.41" r="1.65" fill="#fff" stroke="#000" stroke-width="1.4"/>
<circle cx="355.35" cy="248.55" r="1.65" fill="#fff" stroke="#000" stroke-width="1.4"/>
<circle cx="360.23" cy="253.13" r="1.65" fill="#fff" stroke="#000" stroke-width="1.4"/>
<circle cx="364.98" cy="242.44" r="1.65" fill="#fff" stroke="#000" stroke-width="1.4"/>
<circle cx="369.10" cy="250.08" r="1.65" fill="#fff" stroke="#000" stroke-width="1.4"/>
<circle cx="375.23" cy="257.20" r="1.65" fill="#fff" stroke="#000" stroke-width="1.4"/>
<circle cx="379.85" cy="249.06" r="1.65" fill="#fff" stroke="#000" stroke-width="1.4"/>
<circle cx="386.10" cy="246.00" r="1.65" fill="#fff" stroke="#000" stroke-width="1.4"/>
<circle cx="392.35" cy="250.59" r="1.65" fill="#fff" stroke="#000" stroke-width="1.4"/>
<circle cx="398.85" cy="242.44" r="1.65" fill="#fff" stroke="#000" stroke-width="1.4"/>
<circle cx="403.60" cy="243.97" r="1.65" fill="#fff" stroke="#000" stroke-width="1.4"/>
<circle cx="408.48" cy="250.08" r="1.65" fill="#fff" stroke="#000" stroke-width="1.4"/>
<circle cx="417.23" cy="247.02" r="1.65" fill="#fff" stroke="#000" stroke-width="1.4"/>
<circle cx="425.10" cy="238.88" r="1.65" fill="#fff" stroke="#000" stroke-width="1.4"/>
<circle cx="435.98" cy="254.66" r="1.65" fill="#fff" stroke="#000" stroke-width="1.4"/>
<circle cx="442.35" cy="244.99" r="1.65" fill="#fff" stroke="#000" stroke-width="1.4"/>
<circle cx="451.98" cy="240.91" r="1.65" fill="#fff" stroke="#000" stroke-width="1.4"/>
<circle cx="459.85" cy="251.09" r="1.65" fill="#fff" stroke="#000" stroke-width="1.4"/>
<circle cx="469.85" cy="249.57" r="1.65" fill="#fff" stroke="#000" stroke-width="1.4"/>
<polyline fill="none" stroke="#000" stroke-width="1.3" points="473.80,236.90 480.30,236.90 480.30,259.30 473.80,259.30"/>
<polyline fill="none" stroke="#000" stroke-width="1.3" points="473.80,264.40 480.30,264.40 480.30,285.30 473.80,285.30"/>
<text x="482.40" y="252.60" font-size="7.6" font-weight="bold" text-anchor="start" fill="#000" >HF diet</text>
<text x="482.40" y="277.90" font-size="7.6" font-weight="bold" text-anchor="start" fill="#000" >LF diet</text>
<line x1="499.80" y1="224.10" x2="509.80" y2="224.10" stroke="#000" stroke-width="1.3" />
<circle cx="504.80" cy="224.10" r="1.7" fill="#fff" stroke="#000" stroke-width="1.3"/>
<text x="516.90" y="226.60" font-size="7.5" font-weight="bold" text-anchor="start" fill="#000" >WT</text>
<line x1="499.80" y1="236.80" x2="509.80" y2="236.80" stroke="#000" stroke-width="1.3" />
<rect x="502.65" y="234.65" width="4.3" height="4.3" fill="#000"/>
<text x="517.10" y="239.40" font-size="7.5" font-weight="bold"><tspan font-style="italic">Pltp</tspan><tspan font-weight="normal" stroke="#000" stroke-width="0.15">-KO</tspan></text>
<text x="158.00" y="369.20" font-size="15.5" font-weight="bold" text-anchor="start" fill="#000" >D</text>
<line x1="176.70" y1="387.43" x2="176.70" y2="488.15" stroke="#000" stroke-width="1.3" />
<line x1="176.05" y1="487.50" x2="326.00" y2="487.50" stroke="#000" stroke-width="1.3" />
<line x1="173.30" y1="487.50" x2="176.70" y2="487.50" stroke="#000" stroke-width="1.3" />
<text x="172.10" y="489.90" font-size="6.7" font-weight="bold" text-anchor="end" fill="#000" >0.00</text>
<line x1="173.30" y1="454.36" x2="176.70" y2="454.36" stroke="#000" stroke-width="1.3" />
<text x="172.10" y="456.76" font-size="6.7" font-weight="bold" text-anchor="end" fill="#000" >0.02</text>
<line x1="173.30" y1="421.22" x2="176.70" y2="421.22" stroke="#000" stroke-width="1.3" />
<text x="172.10" y="423.62" font-size="6.7" font-weight="bold" text-anchor="end" fill="#000" >0.04</text>
<line x1="173.30" y1="388.08" x2="176.70" y2="388.08" stroke="#000" stroke-width="1.3" />
<text x="172.10" y="390.48" font-size="6.7" font-weight="bold" text-anchor="end" fill="#000" >0.06</text>
<text transform="translate(153.50,437.80) rotate(-90)" font-size="7.6" font-weight="bold" text-anchor="middle" >Feed efficiency (g of BW/kcal)</text>
<line x1="195.10" y1="457.00" x2="195.10" y2="466.50" stroke="#444" stroke-width="0.9" />
<line x1="188.80" y1="457.00" x2="201.40" y2="457.00" stroke="#444" stroke-width="0.9" />
<rect x="182.80" y="466.90" width="24.60" height="20.00" fill="#fff" stroke="#333" stroke-width="0.75"/>
<line x1="232.35" y1="458.30" x2="232.35" y2="467.10" stroke="#444" stroke-width="0.9" />
<line x1="226.05" y1="458.30" x2="238.65" y2="458.30" stroke="#444" stroke-width="0.9" />
<rect x="219.80" y="467.10" width="25.10" height="19.80" fill="#000" stroke="#000" stroke-width="0.3"/>
<line x1="269.85" y1="414.10" x2="269.85" y2="420.80" stroke="#444" stroke-width="0.9" />
<line x1="263.55" y1="414.10" x2="276.15" y2="414.10" stroke="#444" stroke-width="0.9" />
<rect x="257.40" y="421.20" width="24.90" height="65.70" fill="#fff" stroke="#333" stroke-width="0.75"/>
<line x1="307.00" y1="393.80" x2="307.00" y2="402.40" stroke="#444" stroke-width="0.9" />
<line x1="300.70" y1="393.80" x2="313.30" y2="393.80" stroke="#444" stroke-width="0.9" />
<rect x="294.30" y="402.40" width="25.40" height="84.50" fill="#000" stroke="#000" stroke-width="0.3"/>
<line x1="182.40" y1="494.20" x2="241.00" y2="494.20" stroke="#555" stroke-width="0.7" />
<line x1="259.00" y1="494.20" x2="318.70" y2="494.20" stroke="#555" stroke-width="0.7" />
<text x="212.90" y="507.00" font-size="7.6" font-weight="bold" text-anchor="middle" fill="#000" >LF diet</text>
<text x="289.20" y="507.00" font-size="7.6" font-weight="bold" text-anchor="middle" fill="#000" >HF diet</text>
<line x1="271.70" y1="383.60" x2="303.50" y2="383.60" stroke="#555" stroke-width="0.7" />
<text x="288.60" y="384.72" font-size="12" font-weight="bold" text-anchor="middle" fill="#000" >*</text>
<rect x="348.80" y="381.20" width="10.30" height="4.10" fill="#fff" stroke="#555" stroke-width="0.7"/>
<text x="365.20" y="385.70" font-size="7.4" font-weight="bold" text-anchor="start" fill="#000" >WT</text>
<rect x="348.40" y="391.90" width="10.90" height="4.70" fill="#000" stroke="#000" stroke-width="0.3"/>
<text x="365.40" y="396.70" font-size="7.4" font-weight="bold"><tspan font-style="italic">Pltp</tspan><tspan font-weight="normal" stroke="#000" stroke-width="0.15">-KO</tspan></text>
</svg>
</body></html>
